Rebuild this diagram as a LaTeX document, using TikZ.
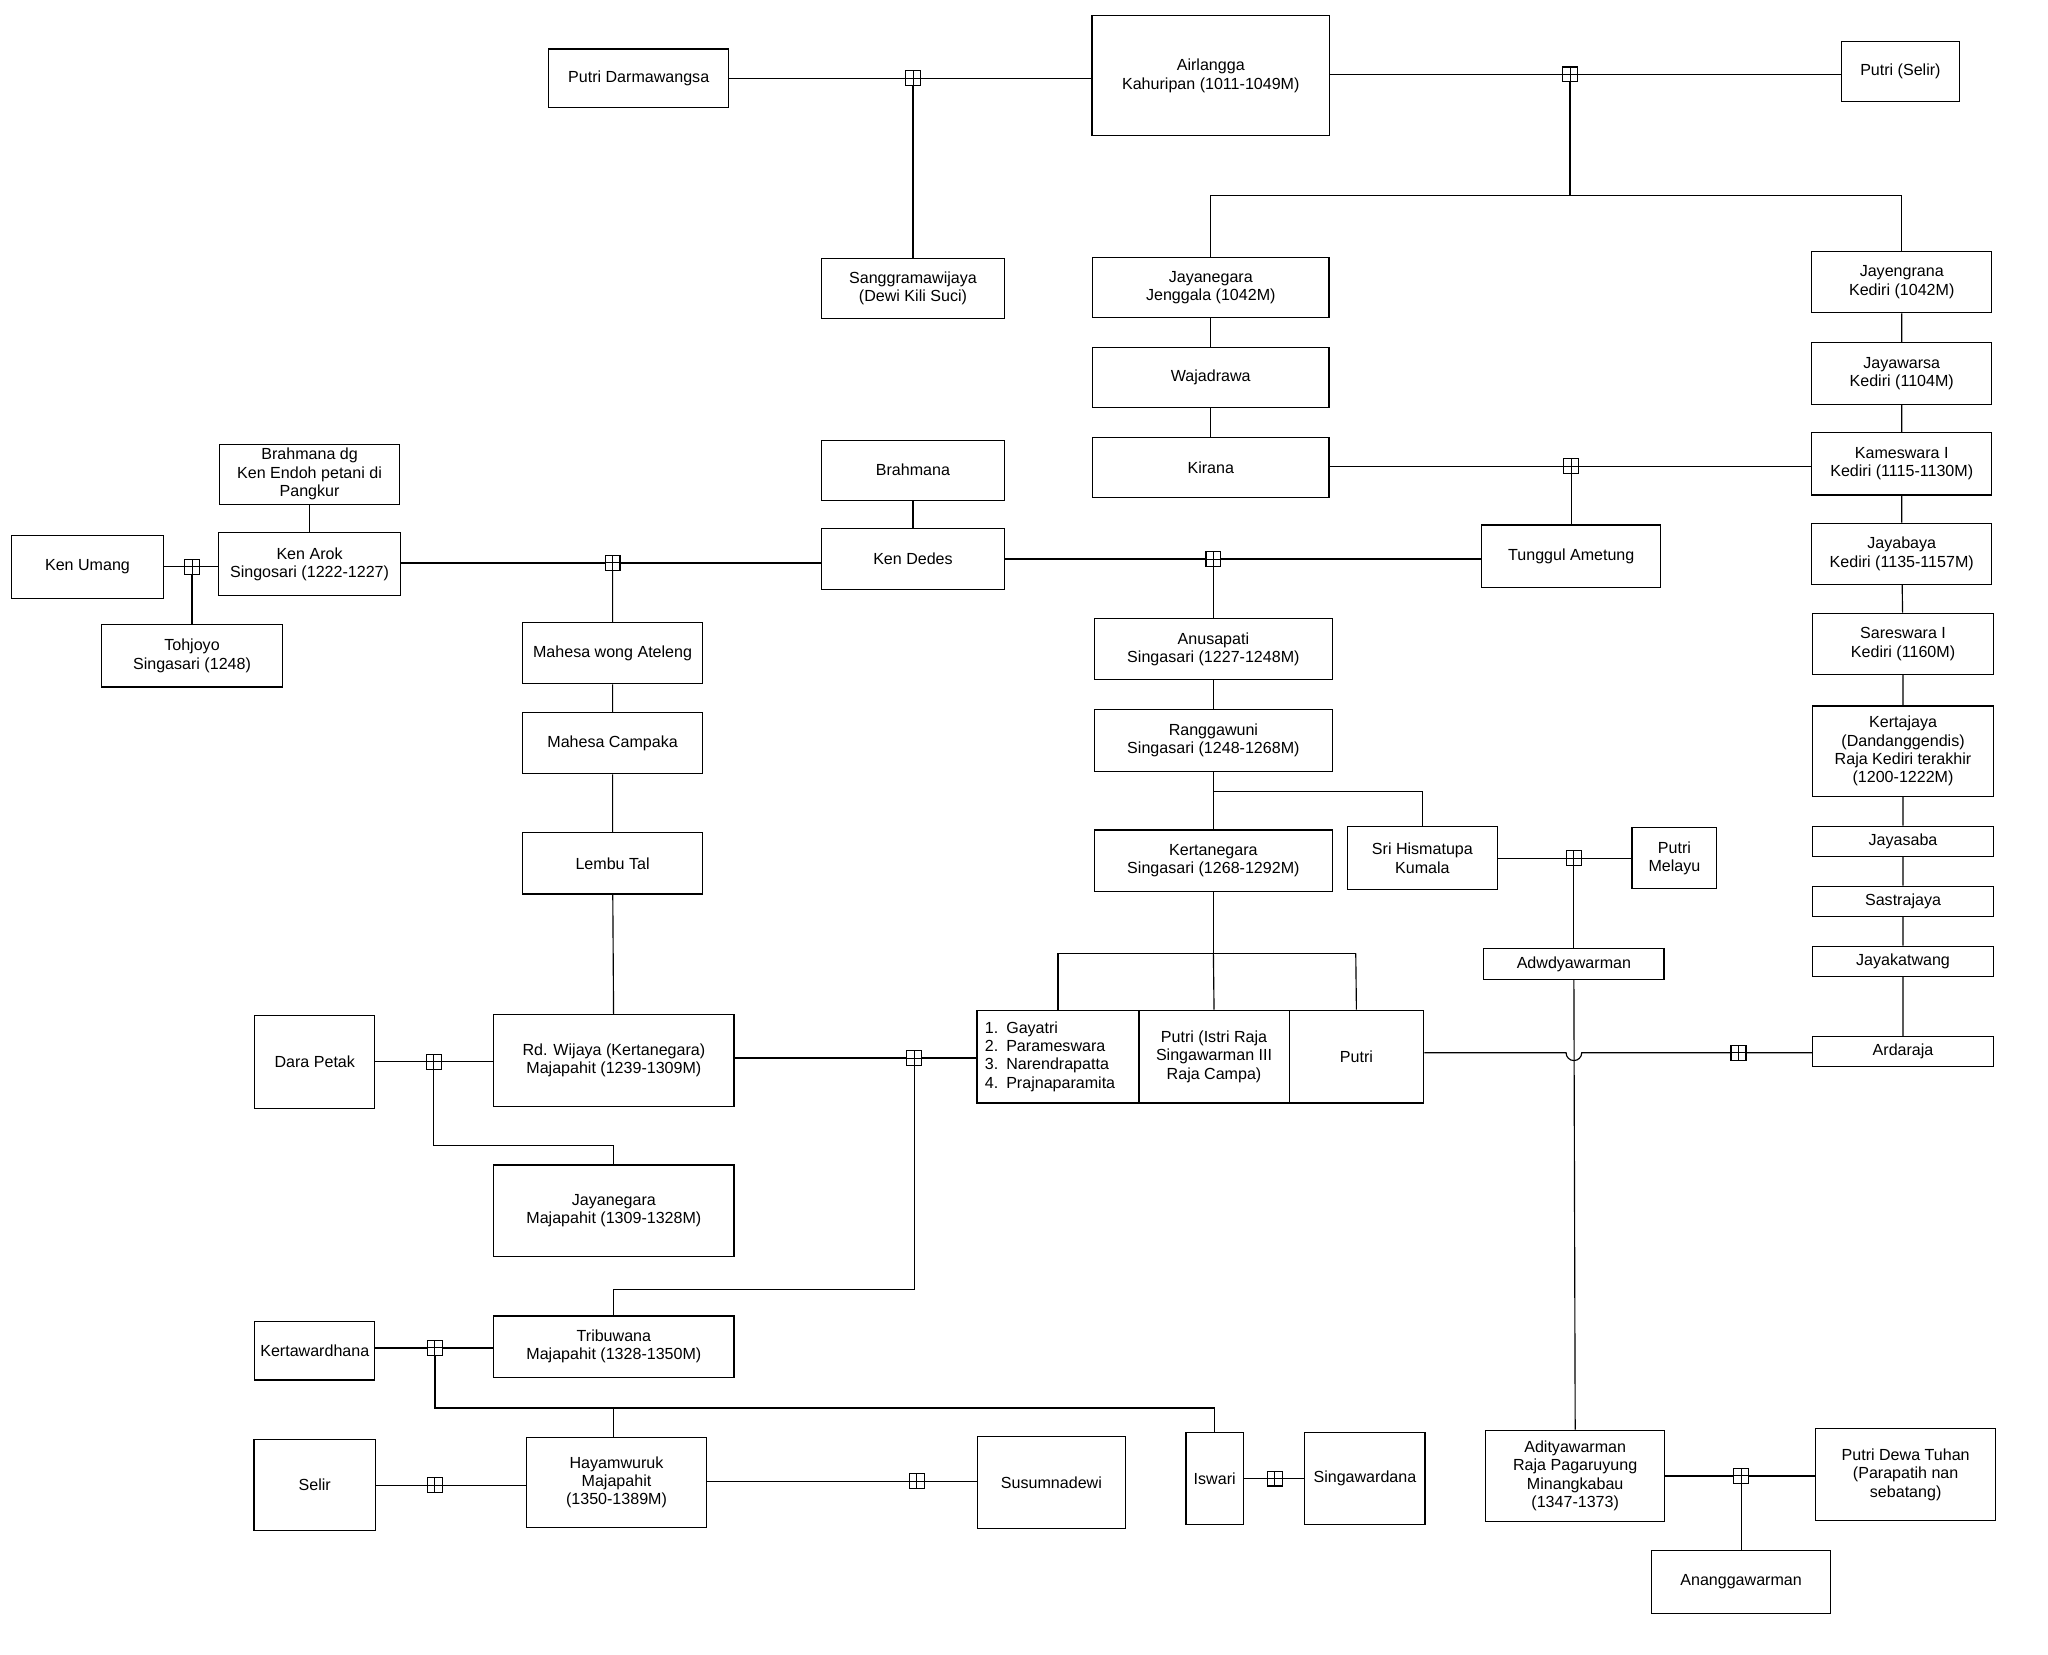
\documentclass[tikz,border=0pt]{standalone}
\usepackage{fontspec}
\setmainfont{Liberation Sans}
\begin{document}
\begin{tikzpicture}[x=0.02cm,y=-0.02cm,
  b/.style={draw,line width=0.5pt,minimum width=#1*0.02cm,align=center,font=\fontsize{7}{8}\selectfont,inner sep=1pt},
  b/.default=138,
  hh/.style={minimum height=#1*0.02cm},
  j/.style={draw,line width=0.5pt,minimum size=6.5pt,inner sep=0pt,fill=white,path picture={\draw[line width=0.4pt] (path picture bounding box.north) -- (path picture bounding box.south) (path picture bounding box.west) -- (path picture bounding box.east);}},
  l/.style={line width=0.5pt}]
\useasboundingbox (0,0) rectangle (1568,1267);
\node[b=138,hh=45] (pd) at (489,60) {Putri Darmawangsa};
\node[b=182,hh=92] (air) at (927,58) {Airlangga\\Kahuripan (1011-1049M)};
\node[b=90,hh=46] (ps) at (1455,55) {Putri (Selir)};
\node[b=140,hh=46] (sg) at (699,221) {Sanggramawijaya\\(Dewi Kili Suci)};
\node[b=181,hh=46] (jj) at (927,220) {Jayanegara\\Jenggala (1042M)};
\node[b=138,hh=47] (jr) at (1456,216) {Jayengrana\\Kediri (1042M)};
\node[b=181,hh=46] (wj) at (927,289) {Wajadrawa};
\node[b=181,hh=46] (kr) at (927,358) {Kirana};
\node[b=138,hh=47] (jw) at (1456,286) {Jayawarsa\\Kediri (1104M)};
\node[b=138,hh=48] (km) at (1456,355) {Kameswara I\\Kediri (1115-1130M)};
\node[b=138,hh=46] (bd) at (237,363) {Brahmana dg\\Ken Endoh petani di\\Pangkur};
\node[b=140,hh=46] (br) at (699,360) {Brahmana};
\node[b=116,hh=48] (ku) at (67,434) {Ken Umang};
\node[b=139,hh=48] (ka) at (237,432) {Ken Arok\\Singosari (1222-1227)};
\node[b=140,hh=47] (kd) at (699,428) {Ken Dedes};
\node[b=137,hh=48] (ta) at (1203,426) {Tunggul Ametung};
\node[b=138,hh=47] (jb) at (1456,424) {Jayabaya\\Kediri (1135-1157M)};
\node[b=138,hh=48] (tj) at (147,502) {Tohjoyo\\Singasari (1248)};
\node[b=138,hh=47] (mw) at (469,500) {Mahesa wong Ateleng};
\node[b=182,hh=47] (an) at (929,497) {Anusapati\\Singasari (1227-1248M)};
\node[b=138,hh=47] (sr) at (1457,493) {Sareswara I\\Kediri (1160M)};
\node[b=138,hh=47] (mc) at (469,569) {Mahesa Campaka};
\node[b=182,hh=47] (rg) at (929,567) {Ranggawuni\\Singasari (1248-1268M)};
\node[b=138,hh=69] (kj) at (1457,575) {Kertajaya\\(Dandanggendis)\\Raja Kediri terakhir\\(1200-1222M)};
\node[b=138,hh=47] (lt) at (469,661) {Lembu Tal};
\node[b=182,hh=47] (kn) at (929,659) {Kertanegara\\Singasari (1268-1292M)};
\node[b=115,hh=48] (sh) at (1089,657) {Sri Hismatupa\\Kumala};
\node[b=65,hh=47] (pm) at (1282,657) {Putri\\Melayu};
\node[b=138,hh=23] (js) at (1457,644) {Jayasaba};
\node[b=138,hh=23] (st) at (1457,690) {Sastrajaya};
\node[b=138,hh=24] (ad) at (1205,738) {Adwdyawarman};
\node[b=138,hh=23] (jk) at (1457,736) {Jayakatwang};
\node[b=92,hh=71] (dp) at (241,813) {Dara Petak};
\node[b=184,hh=70] (rw) at (470,812) {Rd. Wijaya (Kertanegara)\\Majapahit (1239-1309M)};
\node[b=124,hh=71,align=left,text width=112*0.02cm] (ga) at (810,809) {1. Gayatri\\2. Parameswara\\3. Narendrapatta\\4. Prajnaparamita};
\node[b=115,hh=71] (pi) at (929.5,809) {Putri (Istri Raja\\Singawarman III\\Raja Campa)};
\node[b=103,hh=71] (pu) at (1038.5,809) {Putri};
\node[b=138,hh=23] (ar) at (1457,805) {Ardaraja};
\node[b=184,hh=70] (jm) at (470,927) {Jayanegara\\Majapahit (1309-1328M)};
\node[b=92,hh=45] (kw) at (241,1034) {Kertawardhana};
\node[b=184,hh=47] (tb) at (470,1031) {Tribuwana\\Majapahit (1328-1350M)};
\node[b=93,hh=70] (se) at (241,1137) {Selir};
\node[b=138,hh=69] (hw) at (472,1135) {Hayamwuruk\\Majapahit\\(1350-1389M)};
\node[b=113,hh=70] (su) at (805,1135) {Susumnadewi};
\node[b=44,hh=70] (is) at (930,1132) {Iswari};
\node[b=92,hh=70] (sw) at (1045,1132) {Singawardana};
\node[b=137,hh=70] (aw) at (1206,1130) {Adityawarman\\Raja Pagaruyung\\Minangkabau\\(1347-1373)};
\node[b=138,hh=70] (pdt) at (1459,1129) {Putri Dewa Tuhan\\(Parapatih nan\\sebatang)};
\node[b=137,hh=48] (ag) at (1333,1211) {Ananggawarman};
\coordinate (j1) at (699,60); \coordinate (j2) at (1202,57); \coordinate (j3) at (1203,357);
\coordinate (j4) at (929,428); \coordinate (j5) at (469,431); \coordinate (j6) at (147,434);
\coordinate (j7) at (1205,657); \coordinate (j8) at (1331,806); \coordinate (j9) at (700,810);
\coordinate (j10) at (332,813); \coordinate (j11) at (333,1032); \coordinate (j12) at (333,1137);
\coordinate (j13) at (702,1134); \coordinate (j14) at (976,1132); \coordinate (j15) at (1333,1130);
\begin{scope}[l]
\draw (pd.east|-j1) -- (j1) -- (air.west|-j1); \draw (j1) -- (sg);
\draw (air.east|-j2) -- (j2) -- (ps.west|-j2); \draw (j2) -- (1202,150) -- (927,150) -- (jj); \draw (1202,150) -| (jr);
\draw (jj) -- (wj) -- (kr);
\draw (jr) -- (jw) -- (km) -- (jb) -- (sr) -- (kj) -- (js) -- (st) -- (jk) -- (ar);
\draw (kr.east|-j3) -- (j3) -- (km.west|-j3); \draw (j3) -- (ta.north-|j3);
\draw (br) -- (kd); \draw (bd) -- (ka);
\draw (ka.east|-j5) -- (j5) -- (kd.west|-j5); \draw (kd.east|-j4) -- (j4) -- (ta.west|-j4);
\draw (j5) -- (mw) -- (mc) -- (lt) -- (rw);
\draw (j4) -- (an) -- (rg) -- (kn);
\draw (ku.east|-j6) -- (j6) -- (ka.west|-j6); \draw (j6) -- (tj);
\draw (929,606) -| (sh);
\draw (sh.east|-j7) -- (j7) -- (pm.west|-j7); \draw (j7) -- (ad.north-|j7);
\draw (ad.south) -- (aw.north);
\draw (kn) -- (929,730); \draw (810,730) -- (1038,730);
\draw (ga.north) -- (810,730); \draw (pi.north) -- (929,730); \draw (pu.north) -- (1038,730);
\draw (pu.east|-j8) -- (1199,806) arc (180:0:6) -- (j8) -- (ar.west|-j8);
\draw (rw.east|-j9) -- (j9) -- (ga.west|-j9);
\draw (j9) -- (700,987) -| (tb.north);
\draw (dp.east|-j10) -- (j10) -- (rw.west|-j10); \draw (j10) -- (332,877) -| (jm);
\draw (kw.east|-j11) -- (j11) -- (tb.west|-j11); \draw (j11) -- (333,1078) -| (is); \draw (470,1078) -- (hw.north-|470,0);
\draw (se.east|-j12) -- (j12) -- (hw.west|-j12); \draw (hw.east|-j13) -- (j13) -- (su.west|-j13);
\draw (is.east|-j14) -- (j14) -- (sw.west|-j14);
\draw (aw.east|-j15) -- (j15) -- (pdt.west|-j15); \draw (j15) -- (ag.north-|j15);
\end{scope}
\foreach \k in {1,...,15} \node[j] at (j\k) {};
\end{tikzpicture}
\end{document}
